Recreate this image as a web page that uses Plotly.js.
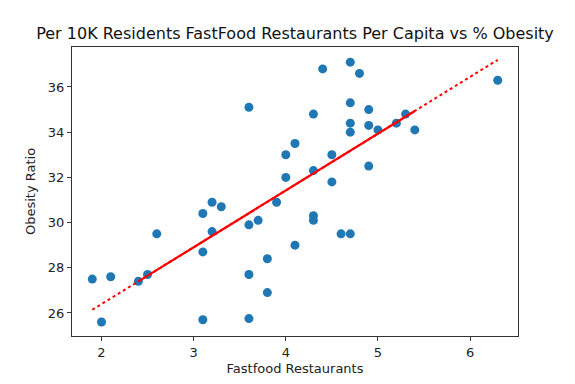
<!DOCTYPE html>
<html>
<head>
<meta charset="utf-8">
<script src="https://cdn.plot.ly/plotly-3.0.1.min.js"></script>
<style>html,body{margin:0;padding:0;background:#fff;}#chart{width:575px;height:384px;}</style>
</head>
<body>
<div id="chart"></div>
<script>
// Fast food restaurants per 10K residents (x) vs obesity ratio (y), one entry per state
const fastfood = [4.4, 2.0, 4.7, 3.6, 5.4, 3.1, 1.9, 4.3, 3.8, 6.3, 2.6, 4.9, 3.2, 4.1, 2.4, 5.0,
                  3.6, 4.5, 2.1, 4.7, 3.3, 5.2, 3.6, 4.0, 2.5, 4.8, 3.1, 4.3, 3.7, 4.9, 3.2, 4.6,
                  3.9, 5.3, 3.1, 4.7, 3.8, 4.0, 3.6, 4.5, 4.1, 4.7, 4.3, 4.9, 4.3, 4.7];
const obesity  = [36.8, 25.6, 35.3, 29.9, 34.1, 30.4, 27.5, 32.3, 26.9, 36.3, 29.5, 35.0, 30.9, 29.0, 27.4, 34.1,
                  35.1, 33.0, 27.6, 29.5, 30.7, 34.4, 27.7, 33.0, 27.7, 36.6, 28.7, 30.3, 30.1, 34.3, 29.6, 29.5,
                  30.9, 34.8, 25.7, 37.1, 28.4, 32.0, 25.75, 31.8, 33.5, 34.4, 34.8, 32.5, 30.1, 34.0];
const xTicks = [2, 3, 4, 5, 6];
const yTicks = [26, 28, 30, 32, 34, 36];

// least-squares fit of obesity on fastfood
const n = fastfood.length;
const mx = fastfood.reduce((a, b) => a + b, 0) / n;
const my = obesity.reduce((a, b) => a + b, 0) / n;
let sxy = 0, sxx = 0;
for (let i = 0; i < n; i++) { sxy += (fastfood[i] - mx) * (obesity[i] - my); sxx += (fastfood[i] - mx) ** 2; }
const slope = sxy / sxx, intercept = my - slope * mx;
const sortedX = fastfood.slice().sort((a, b) => a - b);
const fitY = sortedX.map(v => slope * v + intercept);
// dense part of the fit (where the overplotted dotted line looks solid): drop sparse ends
const denseX = sortedX.slice(3, sortedX.length - 1);
const denseY = denseX.map(v => slope * v + intercept);

const font = 'DejaVu Sans, sans-serif';
const data = [
  { type: 'scatter', mode: 'markers', x: fastfood, y: obesity,
    marker: { color: '#1f77b4', size: 9 }, hoverinfo: 'skip' },
  { type: 'scatter', mode: 'lines', x: sortedX, y: fitY,
    line: { color: 'red', width: 2, dash: 'dot' }, hoverinfo: 'skip' },
  { type: 'scatter', mode: 'lines', x: denseX, y: denseY,
    line: { color: 'red', width: 2.2 }, hoverinfo: 'skip' }
];
const axisCommon = {
  showgrid: false, zeroline: false, showline: true, mirror: true, linecolor: '#333', linewidth: 1,
  ticks: 'outside', ticklen: 4, tickcolor: '#333', tickfont: { family: font, size: 13, color: '#222' }
};
const layout = {
  width: 575, height: 384, showlegend: false,
  paper_bgcolor: '#fff', plot_bgcolor: '#fff',
  margin: { l: 72, r: 57, t: 47, b: 48 },
  title: { text: 'Per 10K Residents FastFood Restaurants Per Capita vs % Obesity',
           font: { family: font, size: 16, color: '#111' },
           x: 0.5, xref: 'paper', xanchor: 'center', y: (384 - 33) / 384, yref: 'container', yanchor: 'middle' },
  xaxis: Object.assign({}, axisCommon, { range: [1.68, 6.52], tickvals: xTicks,
           title: { text: 'Fastfood Restaurants', font: { family: font, size: 13, color: '#222' }, standoff: 5 } }),
  yaxis: Object.assign({}, axisCommon, { range: [24.98, 37.77], tickvals: yTicks,
           title: { text: 'Obesity Ratio', font: { family: font, size: 13, color: '#222' }, standoff: 9 } })
};
Plotly.newPlot('chart', data, layout, { displayModeBar: false, staticPlot: true });
</script>
</body>
</html>
